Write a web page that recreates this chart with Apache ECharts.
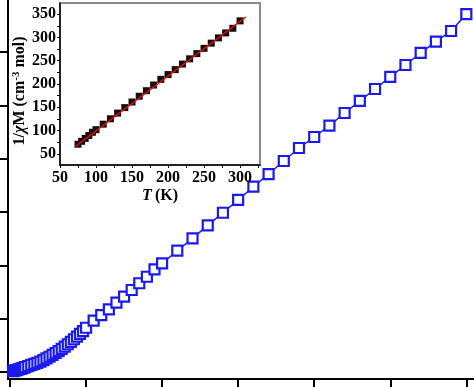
<!DOCTYPE html>
<html>
<head>
<meta charset="utf-8">
<script src="https://cdn.jsdelivr.net/npm/echarts@6/dist/echarts.min.js"></script>
<style>html,body{margin:0;padding:0;background:#fff}#c{width:474px;height:387px}</style>
</head>
<body>
<div id="c"></div>
<script>
// Temperatures (K)
const temps = [2,3,4,5,6,7,8,9,10,12,14,16,18,20,22,24,26,28,30,32,34,36,38,40,42,44,46,48,50,
  55,60,65,70,75,80,85,90,95,100,110,120,130,140,150,160,170,180,190,200,210,220,230,240,250,260,270,280,290,300];
// 1/chi_M (cm^-3 mol)
const invChi = [0.9,1.3,1.7,2.1,2.6,3.0,3.5,4.0,4.5,5.5,6.6,7.6,8.6,9.8,11.2,12.7,14.3,16.0,17.8,19.6,21.6,23.8,26.0,28.3,30.7,33.2,35.7,38.3,41.5,
  48.1,53.4,58.8,65.0,70.6,76.9,83.2,89.3,96.3,101.9,113.7,125.3,137.5,149.3,161.3,173.7,185.6,197.8,210.0,220.3,230.9,242.8,254.1,265.3,276.6,287.8,299.1,309.7,319.7,335.6];
// Linear fit shown in the inset (endpoints)
const fitT = [72, 308];
const fitV = [66.3, 344.0];
// Tick values
const mainMajorX = [0,50,100,150,200,250,300];
const mainMinorX = [25,75,125,175,225,275];
const mainMajorY = [0,50,100,150,200,250,300];
const mainMinorY = [25,75,125,175,225,275,325];
const insetXLabels = [50,100,150,200,250,300];
const insetXTicks = [50,75,100,125,150,175,200,225,250,275,300,325];
const insetYLabels = [50,100,150,200,250,300,350];
const insetYTicks = [50,75,100,125,150,175,200,225,250,275,300,325,350];

const mainData = temps.map((t,i)=>[t, invChi[i]]);
const insetData = temps.map((t,i)=>[t, invChi[i]]).filter(d=>d[0]>=75);
const fitData = fitT.map((t,i)=>[t, fitV[i]]);

const serif = 'Liberation Serif';
const chart = echarts.init(document.getElementById('c'), null, {renderer:'canvas'});
chart.setOption({
  animation:false,
  backgroundColor:'#fff',
  grid:[
    {left:8, right:0, top:0, bottom:8, show:false},
    {left:60, right:214, top:3, bottom:222, show:true, backgroundColor:'#fff', borderColor:'#8a8a8a', borderWidth:2, z:5}
  ],
  xAxis:[
    {gridIndex:0, type:'value', min:-1.31, max:305.05, splitLine:{show:false},
     axisLine:{show:true, onZero:false, lineStyle:{color:'#000', width:2}},
     axisTick:{show:true, inside:false, length:8, lineStyle:{color:'#000', width:2}, customValues:mainMajorX},
     axisLabel:{show:false}},
    {gridIndex:0, type:'value', min:-1.31, max:305.05, splitLine:{show:false},
     axisLine:{show:false, onZero:false},
     axisTick:{show:true, inside:false, length:4, lineStyle:{color:'#000', width:1.5}, customValues:mainMinorX},
     axisLabel:{show:false}},
    {gridIndex:1, type:'value', min:50, max:327.7, splitLine:{show:false}, z:6,
     axisLine:{show:true, onZero:false, lineStyle:{color:'#000', width:1.5}},
     axisTick:{show:true, inside:false, length:3, lineStyle:{color:'#000', width:1}, customValues:insetXTicks},
     axisLabel:{show:true, margin:5, customValues:insetXLabels, color:'#000', fontFamily:serif, fontWeight:'bold', fontSize:16},
     name:'{i|T} {n|(K)}', nameLocation:'middle', nameGap:23,
     nameTextStyle:{rich:{
       i:{fontFamily:serif, fontStyle:'italic', fontWeight:'bold', fontSize:16, color:'#000'},
       n:{fontFamily:serif, fontWeight:'bold', fontSize:16, color:'#000'}}}}
  ],
  yAxis:[
    {gridIndex:0, type:'value', min:-6.56, max:348.75, splitLine:{show:false},
     axisLine:{show:true, onZero:false, lineStyle:{color:'#000', width:2}},
     axisTick:{show:true, inside:false, length:8, lineStyle:{color:'#000', width:2}, customValues:mainMajorY},
     axisLabel:{show:false}},
    {gridIndex:0, type:'value', min:-6.56, max:348.75, splitLine:{show:false},
     axisLine:{show:false, onZero:false},
     axisTick:{show:true, inside:false, length:4, lineStyle:{color:'#000', width:1.5}, customValues:mainMinorY},
     axisLabel:{show:false}},
    {gridIndex:1, type:'value', min:26, max:374, splitLine:{show:false}, z:6,
     axisLine:{show:true, onZero:false, lineStyle:{color:'#000', width:1.5}},
     axisTick:{show:true, inside:false, length:3, lineStyle:{color:'#000', width:1}, customValues:insetYTicks},
     axisLabel:{show:true, margin:4, customValues:insetYLabels, color:'#000', fontFamily:serif, fontWeight:'bold', fontSize:16},
     name:'{n|1/}{i|χ}{n|M (cm}{s|-3}{n| mol)}{sp|}', nameLocation:'middle', nameGap:31, nameRotate:90,
     nameTextStyle:{rich:{
       i:{fontFamily:serif, fontStyle:'italic', fontWeight:'bold', fontSize:16, color:'#000'},
       n:{fontFamily:serif, fontWeight:'bold', fontSize:16, color:'#000'},
       s:{fontFamily:serif, fontWeight:'bold', fontSize:11, color:'#000', verticalAlign:'top', padding:[0,0,7,0]},
       sp:{width:14}}}}
  ],
  series:[
    {type:'line', xAxisIndex:0, yAxisIndex:0, data:mainData, symbol:'rect', symbolSize:10,
     lineStyle:{color:'#1a1aee', width:1.5}, itemStyle:{color:'#fff', borderColor:'#1a1aee', borderWidth:2.2}, z:3},
    {type:'line', xAxisIndex:2, yAxisIndex:2, data:fitData, symbol:'none',
     lineStyle:{color:'#e01010', width:1.2}, z:8},
    {type:'line', xAxisIndex:2, yAxisIndex:2, data:insetData, symbol:'rect', symbolSize:7,
     lineStyle:{width:0, opacity:0}, itemStyle:{color:'#1a0a0a', borderColor:'#1a0a0a', borderWidth:0}, z:7},
    {type:'line', xAxisIndex:2, yAxisIndex:2, data:fitData, symbol:'none',
     lineStyle:{color:'#e01010', width:1, opacity:0.8}, z:9}
  ]
});
</script>
</body>
</html>
